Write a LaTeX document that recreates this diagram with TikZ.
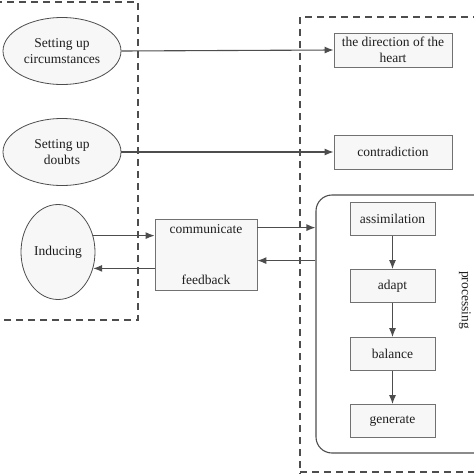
\documentclass[tikz,border=0pt]{standalone}
\usepackage{fontspec}
\setmainfont{Liberation Serif}
\usetikzlibrary{arrows.meta, shapes.geometric, calc, positioning}
\definecolor{linegray}{HTML}{4D4D4D}
\definecolor{fillgray}{HTML}{F7F7F7}
\definecolor{textgray}{HTML}{1E1E1E}
\begin{document}
\begin{tikzpicture}[x=1pt, y=1pt,
    every node/.style={font=\fontsize{13.5}{16.5}\selectfont, text=textgray},
    oval/.style={ellipse, draw=linegray, fill=fillgray, line width=0.8pt, inner sep=0pt, align=center},
    block/.style={draw=linegray!80, fill=fillgray, line width=0.8pt, inner sep=0pt, align=center},
    arr/.style={-{Latex[length=9pt, width=7pt]}, draw=linegray, line width=1.1pt},
    frame/.style={draw=linegray, dashed, dash pattern=on 7pt off 5pt, line width=1.1pt}]
    \useasboundingbox (0, 0) rectangle (474, -474);

    % dashed frames
    \draw[frame] (-5, -2) -- (138, -2) -- (138, -320) -- (-5, -320);
    \draw[frame] (300, -480) -- (300, -17) -- (480, -17);
    \draw[frame] (300, -472) -- (480, -472);

    \node[oval, minimum width=118, minimum height=67] (circ) at (62, -51) {Setting up\\circumstances};
    \node[oval, minimum width=118, minimum height=67] (doubts) at (62, -152) {Setting up\\doubts};
    \node[oval, minimum width=74, minimum height=95] (inducing) at (58, -252) {Inducing};

    \node[block, minimum width=118, minimum height=34] (direction) at (393, -50) {the direction of the\\heart};
    \node[block, minimum width=118, minimum height=34] (contra) at (393, -152) {contradiction};
    \node[block, minimum width=102, minimum height=71] (comm) at (206, -254.5) {};
    \node (commtxt) at (206, -229) {communicate};
    \node (feedtxt) at (206, -280) {feedback};

    % processing area
    \node[draw=linegray, line width=1.1pt, rounded corners=16pt, minimum width=184, minimum height=258] (proc) at (408, -324) {};
    \node[rotate=-90, inner sep=1pt] (proclbl) at (465, -300) {processing};

    \node[block, minimum width=85, minimum height=33] (assim) at (392.5, -219) {assimilation};
    \node[block, minimum width=85, minimum height=33] (adapt) at (392.5, -286) {adapt};
    \node[block, minimum width=85, minimum height=33] (balance) at (392.5, -354) {balance};
    \node[block, minimum width=85, minimum height=33] (generate) at (392.5, -421) {generate};

    \coordinate (commout) at ($(comm.north east)+(0, -9)$);
    \coordinate (commin) at ($(comm.north east)+(0, -42)$);

    \draw[arr] (circ.east) -- (direction.west);
    \draw[arr] (doubts.east) -- (contra.west);
    \draw[arr] (inducing.25) -- (comm.west |- inducing.25);
    \draw[arr] (comm.west |- inducing.-25) -- (inducing.-25);
    \draw[arr] (commout) -- (proc.west |- commout);
    \draw[arr] (proc.west |- commin) -- (commin);
    \draw[arr] (assim) -- (adapt);
    \draw[arr] (adapt) -- (balance);
    \draw[arr] (balance) -- (generate);
\end{tikzpicture}
\end{document}
